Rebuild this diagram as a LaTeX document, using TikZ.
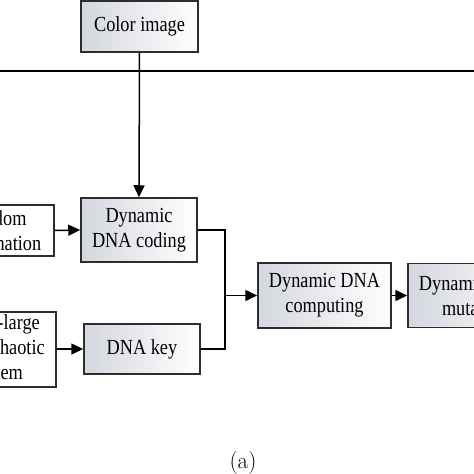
\documentclass[tikz,border=0pt]{standalone}
\usepackage{fontspec}
\setmainfont{Liberation Serif}[FakeStretch=0.85]
\newfontfamily\lmfont{Latin Modern Roman}
\usetikzlibrary{arrows.meta}
\definecolor{boxgray}{RGB}{212,215,223}
\definecolor{edgegray}{RGB}{45,45,45}
\tikzset{
  blk/.style={draw=edgegray, line width=1.5pt, rectangle, align=center, inner sep=2pt,
    font=\fontsize{21.5}{25}\selectfont, text=black},
  shadeblk/.style={blk, left color=boxgray, right color=white},
  plainblk/.style={blk, fill=white},
  conn/.style={line width=1.5pt, draw=black},
  arr/.style={conn, -{Triangle[length=12pt,width=11pt]}},
}
\begin{document}
\begin{tikzpicture}[x=1pt,y=-1pt]
\useasboundingbox (0,0) rectangle (474,474);
\clip (0,0) rectangle (474,474);
\node[shadeblk, minimum width=117pt, minimum height=51pt] (color) at (139.5,26.5) {Color image};
\node[plainblk, minimum width=117pt, minimum height=51pt] (random) at (-4.5,230.5) {Random\\combination};
\node[shadeblk, minimum width=116pt, minimum height=64pt] (coding) at (139,230) {Dynamic\\DNA coding};
\node[plainblk, minimum width=117pt, minimum height=75pt] (chaos) at (-2.5,349.5) {Super-large\\hyperchaotic\\system};
\node[shadeblk, minimum width=116pt, minimum height=50pt] (key) at (142,349) {DNA key};
\node[shadeblk, minimum width=133pt, minimum height=65pt] (comp) at (324.5,295.5) {Dynamic DNA\\computing};
\node[shadeblk, minimum width=133pt, minimum height=64pt] (mut) at (474.5,295.5) {Dynamic DNA\\mutation};
\node[font=\lmfont\fontsize{23}{27}\selectfont] (cap) at (243,463) {(a)};
\coordinate (hl) at (0,71);
\coordinate (hr) at (474,71);
\coordinate (jn) at (225,295.5);
\draw[conn] (hl) -- (hr);
\draw[arr] (color.south) -- (coding.north);
\draw[arr] (random.east) -- (coding.west);
\draw[arr] (chaos.east |- key.west) -- (key.west);
\draw[conn] (coding.east) -- (coding.east -| jn) |- (key.east);
\draw[arr] (jn) -- (comp.west);
\draw[arr] (comp.east) -- (mut.west);
\end{tikzpicture}
\end{document}
